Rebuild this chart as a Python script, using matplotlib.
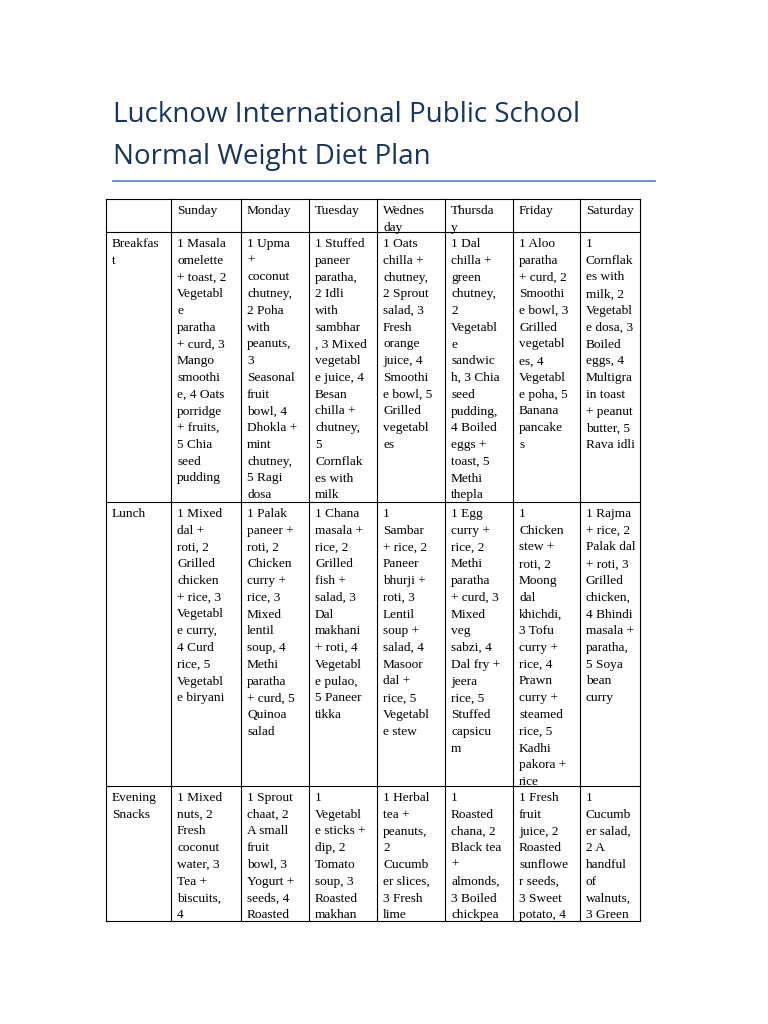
import matplotlib
matplotlib.use("Agg")
import matplotlib.pyplot as plt

title_lines = ["Lucknow International Public School", "Normal Weight Diet Plan"]
header = ["", "Sunday", "Monday", "Tuesday", "Wednes\nday", "Thursda\ny", "Friday", "Saturday"]
row_labels = ["Breakfas\nt", "Lunch", "Evening\nSnacks"]

breakfast = [
    "1 Masala\nomelette\n+ toast, 2\nVegetabl\ne\nparatha\n+ curd, 3\nMango\nsmoothi\ne, 4 Oats\nporridge\n+ fruits,\n5 Chia\nseed\npudding",
    "1 Upma\n+\ncoconut\nchutney,\n2 Poha\nwith\npeanuts,\n3\nSeasonal\nfruit\nbowl, 4\nDhokla +\nmint\nchutney,\n5 Ragi\ndosa",
    "1 Stuffed\npaneer\nparatha,\n2 Idli\nwith\nsambhar\n, 3 Mixed\nvegetabl\ne juice, 4\nBesan\nchilla +\nchutney,\n5\nCornflak\nes with\nmilk",
    "1 Oats\nchilla +\nchutney,\n2 Sprout\nsalad, 3\nFresh\norange\njuice, 4\nSmoothi\ne bowl, 5\nGrilled\nvegetabl\nes",
    "1 Dal\nchilla +\ngreen\nchutney,\n2\nVegetabl\ne\nsandwic\nh, 3 Chia\nseed\npudding,\n4 Boiled\neggs +\ntoast, 5\nMethi\nthepla",
    "1 Aloo\nparatha\n+ curd, 2\nSmoothi\ne bowl, 3\nGrilled\nvegetabl\nes, 4\nVegetabl\ne poha, 5\nBanana\npancake\ns",
    "1\nCornflak\nes with\nmilk, 2\nVegetabl\ne dosa, 3\nBoiled\neggs, 4\nMultigra\nin toast\n+ peanut\nbutter, 5\nRava idli",
]
lunch = [
    "1 Mixed\ndal +\nroti, 2\nGrilled\nchicken\n+ rice, 3\nVegetabl\ne curry,\n4 Curd\nrice, 5\nVegetabl\ne biryani",
    "1 Palak\npaneer +\nroti, 2\nChicken\ncurry +\nrice, 3\nMixed\nlentil\nsoup, 4\nMethi\nparatha\n+ curd, 5\nQuinoa\nsalad",
    "1 Chana\nmasala +\nrice, 2\nGrilled\nfish +\nsalad, 3\nDal\nmakhani\n+ roti, 4\nVegetabl\ne pulao,\n5 Paneer\ntikka",
    "1\nSambar\n+ rice, 2\nPaneer\nbhurji +\nroti, 3\nLentil\nsoup +\nsalad, 4\nMasoor\ndal +\nrice, 5\nVegetabl\ne stew",
    "1 Egg\ncurry +\nrice, 2\nMethi\nparatha\n+ curd, 3\nMixed\nveg\nsabzi, 4\nDal fry +\njeera\nrice, 5\nStuffed\ncapsicu\nm",
    "1\nChicken\nstew +\nroti, 2\nMoong\ndal\nkhichdi,\n3 Tofu\ncurry +\nrice, 4\nPrawn\ncurry +\nsteamed\nrice, 5\nKadhi\npakora +\nrice",
    "1 Rajma\n+ rice, 2\nPalak dal\n+ roti, 3\nGrilled\nchicken,\n4 Bhindi\nmasala +\nparatha,\n5 Soya\nbean\ncurry",
]
evening = [
    "1 Mixed\nnuts, 2\nFresh\ncoconut\nwater, 3\nTea +\nbiscuits,\n4",
    "1 Sprout\nchaat, 2\nA small\nfruit\nbowl, 3\nYogurt +\nseeds, 4\nRoasted",
    "1\nVegetabl\ne sticks +\ndip, 2\nTomato\nsoup, 3\nRoasted\nmakhan",
    "1 Herbal\ntea +\npeanuts,\n2\nCucumb\ner slices,\n3 Fresh\nlime",
    "1\nRoasted\nchana, 2\nBlack tea\n+\nalmonds,\n3 Boiled\nchickpea",
    "1 Fresh\nfruit\njuice, 2\nRoasted\nsunflowe\nr seeds,\n3 Sweet\npotato, 4",
    "1\nCucumb\ner salad,\n2 A\nhandful\nof\nwalnuts,\n3 Green",
]

col_x = [106, 171, 241, 309, 377, 445, 513, 580, 640]
row_y = [199, 232, 502, 786, 921]
line_h = 16.75

fig = plt.figure(figsize=(7.68, 10.24), dpi=100)
ax = fig.add_axes([0, 0, 1, 1])
ax.set_xlim(0, 768)
ax.set_ylim(1024, 0)
ax.axis("off")

for i, t in enumerate(title_lines):
    ax.text(113, 115 + i * 42, t, fontsize=20, family="Open Sans", color="#17365D", va="center", ha="left")
ax.plot([113, 655], [181, 181], color="#4F81BD", lw=1.2)

for x in col_x:
    ax.plot([x, x], [row_y[0], row_y[-1]], color="black", lw=0.8)
for y in row_y:
    ax.plot([col_x[0], col_x[-1]], [y, y], color="black", lw=0.8)

rows = [header, [row_labels[0]] + breakfast, [row_labels[1]] + lunch, [row_labels[2]] + evening]
for r, cells in enumerate(rows):
    for c, txt in enumerate(cells):
        for k, line in enumerate(txt.split("\n")):
            ax.text(col_x[c] + 6, row_y[r] + 12 + k * line_h, line, fontsize=9.6,
                    family="Liberation Serif", va="center", ha="left", color="black")

fig.savefig("out.png", dpi=100)
